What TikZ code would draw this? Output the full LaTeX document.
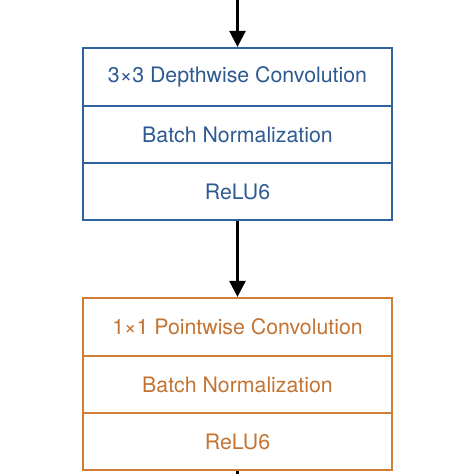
\documentclass[tikz,border=0pt]{standalone}
\usepackage{fontspec}
\setmainfont{TeX Gyre Heros}
\usetikzlibrary{arrows.meta}
\definecolor{bl}{RGB}{45,100,160}
\definecolor{bltext}{RGB}{45,90,145}
\definecolor{og}{RGB}{210,125,55}
\definecolor{ogtext}{RGB}{195,115,50}
\tikzset{
  cell/.style={draw, line width=2.2pt, minimum width=309pt, inner sep=0pt, font=\fontsize{21.3}{24}\selectfont},
  bcell/.style={cell, draw=bl, text=bltext},
  ocell/.style={cell, draw=og, text=ogtext},
  flow/.style={line width=2.6pt, -{Triangle[width=16pt,length=16pt]}}
}
\begin{document}
\begin{tikzpicture}[x=1pt,y=-1pt]
\useasboundingbox (0,0) rectangle (474,474);
\node[bcell, minimum height=58pt] (b1) at (237.5,77) {3×3 Depthwise Convolution};
\node[bcell, minimum height=57pt] (b2) at (237.5,134.5) {Batch Normalization};
\node[bcell, minimum height=57pt] (b3) at (237.5,191.5) {ReLU6};
\node[ocell, minimum height=58pt] (o1) at (237.5,327) {1×1 Pointwise Convolution};
\node[ocell, minimum height=57pt] (o2) at (237.5,384.5) {Batch Normalization};
\node[ocell, minimum height=57pt] (o3) at (237.5,441.5) {ReLU6};
\coordinate (top) at (237.5,-2);
\coordinate (bot) at (237.5,480);
\draw[flow] (top) -- (b1.north);
\draw[flow] (b3.south) -- (o1.north);
\draw[line width=2.6pt] (o3.south) -- (bot);
\end{tikzpicture}
\end{document}
